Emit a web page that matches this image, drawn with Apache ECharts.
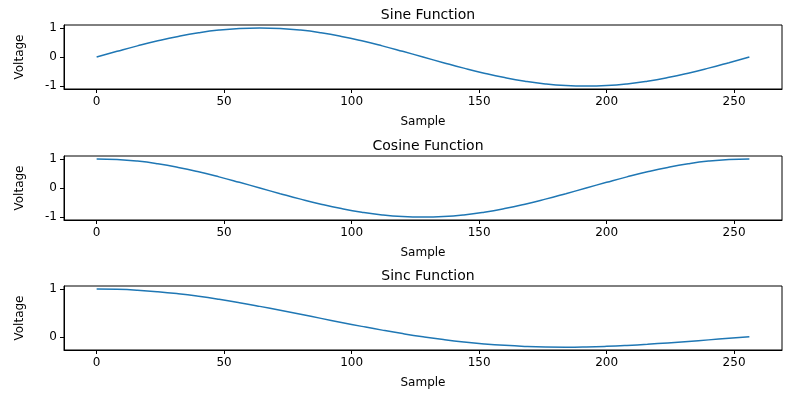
<!DOCTYPE html>
<html><head><meta charset="utf-8">
<script src="https://cdn.jsdelivr.net/npm/echarts@6/dist/echarts.min.js"></script>
<style>body{margin:0}#c{width:800px;height:400px}</style></head>
<body><div id="c"></div>
<script>
const samples=[0,8,16,24,32,40,48,56,64,72,80,88,96,104,112,120,128,136,144,152,160,168,176,184,192,200,208,216,224,232,240,248,256];
const sineV=[0,0.195,0.383,0.556,0.707,0.831,0.924,0.981,1,0.981,0.924,0.831,0.707,0.556,0.383,0.195,0,-0.195,-0.383,-0.556,-0.707,-0.831,-0.924,-0.981,-1,-0.981,-0.924,-0.831,-0.707,-0.556,-0.383,-0.195,0];
const cosV=[1,0.981,0.924,0.831,0.707,0.556,0.383,0.195,0,-0.195,-0.383,-0.556,-0.707,-0.831,-0.924,-0.981,-1,-0.981,-0.924,-0.831,-0.707,-0.556,-0.383,-0.195,0,0.195,0.383,0.556,0.707,0.831,0.924,0.981,1];
const sincV=[1,0.9936,0.9745,0.9432,0.9003,0.8469,0.7842,0.7136,0.6366,0.555,0.4705,0.385,0.3001,0.2177,0.1392,0.0662,0,-0.0584,-0.1083,-0.1489,-0.1801,-0.2017,-0.2139,-0.2172,-0.2122,-0.1998,-0.181,-0.1568,-0.1286,-0.0976,-0.065,-0.0321,0];
const titles=['Sine Function','Cosine Function','Sinc Function'];
const xTicks=[0,50,100,150,200,250];
const yTicks=[[-1,0,1],[-1,0,1],[0,1]];
const yRange=[[-1.1,1.1],[-1.1,1.1],[-0.277,1.063]];
const all=[sineV,cosV,sincV];
const tops=[25,156,286];
const f='DejaVu Sans';
const opt={animation:false,title:[],grid:[],xAxis:[],yAxis:[],series:[]};
const line={show:true,onZero:false,lineStyle:{color:'#000',width:1}};
for(let i=0;i<3;i++){
 opt.title.push({text:titles[i],top:tops[i]-22,left:423,textAlign:'center',textStyle:{fontFamily:f,fontSize:14,fontWeight:'normal',color:'#000'}});
 opt.grid.push({left:64,top:tops[i],width:718,height:64,show:true,borderColor:'#000',borderWidth:1});
 opt.xAxis.push({type:'value',gridIndex:i,min:-12.8,max:268.8,name:'Sample',nameLocation:'middle',nameGap:27,nameTextStyle:{fontFamily:f,fontSize:12,color:'#000'},
  axisLine:line,splitLine:{show:false},axisTick:{customValues:xTicks,length:4,lineStyle:{color:'#000'}},axisLabel:{customValues:xTicks,fontFamily:f,fontSize:12,color:'#000',margin:7}});
 opt.yAxis.push({type:'value',gridIndex:i,min:yRange[i][0],max:yRange[i][1],name:'Voltage',nameLocation:'middle',nameGap:38,nameTextStyle:{fontFamily:f,fontSize:12,color:'#000'},
  axisLine:line,splitLine:{show:false},axisTick:{show:true,customValues:yTicks[i],length:4,lineStyle:{color:'#000'}},axisLabel:{customValues:yTicks[i],fontFamily:f,fontSize:12,color:'#000',margin:7}});
 opt.series.push({type:'line',xAxisIndex:i,yAxisIndex:i,data:samples.map((s,j)=>[s,all[i][j]]),smooth:true,showSymbol:false,lineStyle:{color:'#1f77b4',width:1.5}});
}
echarts.init(document.getElementById('c')).setOption(opt);
</script></body></html>
